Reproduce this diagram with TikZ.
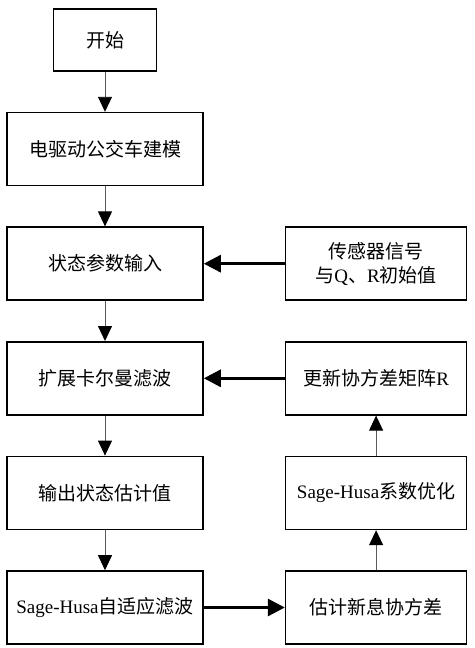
\documentclass[tikz,border=0pt]{standalone}
\usepackage{fontspec}
\setmainfont{Liberation Serif}
\newfontfamily\cjk{Noto Sans CJK SC}
\usetikzlibrary{arrows.meta,positioning}

\tikzset{
  box/.style={draw, line width=1.6pt, minimum width=196pt, minimum height=73pt,
    inner sep=0pt, align=center, font=\fontsize{19}{24}\selectfont},
  rbox/.style={box, minimum width=181pt},
  thinarr/.style={draw=black!65, line width=0.9pt,
    -{Triangle[width=14pt,length=15pt,color=black]}},
  thickarr/.style={line width=3pt, -{Triangle[width=17pt,length=17pt]}},
}

\begin{document}
\begin{tikzpicture}[x=1pt,y=-1pt,node distance=40pt]
\useasboundingbox (0,0) rectangle (474,648);

% left column
\node[box, minimum width=103pt, minimum height=62pt] (start) at (105,40) {\cjk 开始};
\node[box, below=of start] (model) {\cjk 电驱动公交车建模};
\node[box, below=of model] (input) {\cjk 状态参数输入};
\node[box, below=of input] (ekf) {\cjk 扩展卡尔曼滤波};
\node[box, below=of ekf] (output) {\cjk 输出状态估计值};
\node[box, below=of output] (sh) {Sage-Husa{\cjk 自适应滤波}};

% right column
\node[rbox, right=81pt of input] (sensor) {{\cjk 传感器信号}\\{\cjk 与}Q{\cjk 、}R{\cjk 初始值}};
\node[rbox, right=81pt of ekf] (update) {{\cjk 更新协方差矩阵}R};
\node[rbox, right=81pt of output] (coef) {Sage-Husa{\cjk 系数优化}};
\node[rbox, right=81pt of sh] (innov) {\cjk 估计新息协方差};

\draw[thinarr] (start) -- (model);
\draw[thinarr] (model) -- (input);
\draw[thinarr] (input) -- (ekf);
\draw[thinarr] (ekf) -- (output);
\draw[thinarr] (output) -- (sh);

\draw[thickarr] (sensor) -- (input);
\draw[thickarr] (update) -- (ekf);
\draw[thickarr] (sh) -- (innov);

\draw[thinarr] (innov) -- (coef);
\draw[thinarr] (coef) -- (update);

\end{tikzpicture}
\end{document}
